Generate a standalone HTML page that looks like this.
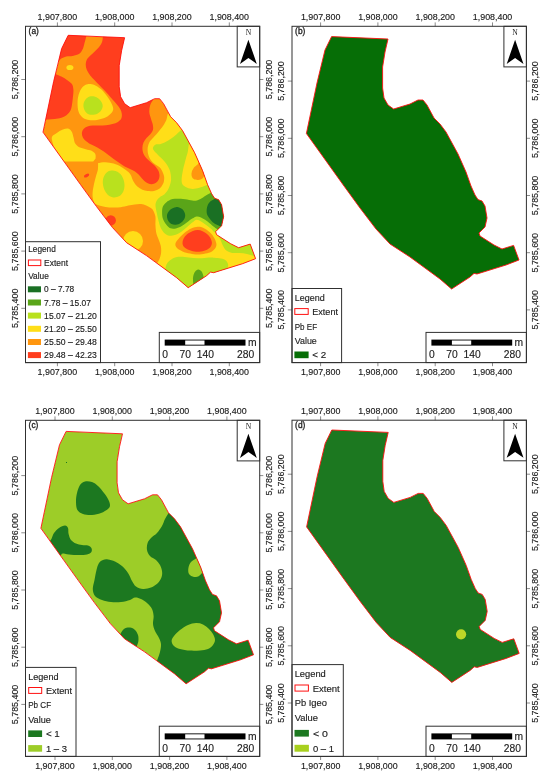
<!DOCTYPE html>
<html lang="en"><head><meta charset="utf-8"><title>Pb spatial distribution maps</title>
<style>html,body{margin:0;padding:0;background:#fff}svg{display:block}text{font-family:"Liberation Sans", sans-serif;fill:#202020;stroke:#202020;stroke-width:.14px}.s{font-family:"Liberation Serif", serif;stroke-width:0}.pl{stroke-width:.3px}</style></head><body>
<svg width="550" height="780" viewBox="0 0 550 780">
<rect width="550" height="780" fill="#fff"/>
<defs>
<clipPath id="cpa"><path d="M68.2 35.3L124.6 37.7L121.6 50.7L119.2 65.7L119.2 86.7L120.6 96.7L124.6 103.7L130.2 107.7L146.6 102.7L154.6 98.7L159.6 98.7L163.6 103.7L170.6 116.7L176.6 122.7L182.6 130.7L194.6 152.7L202.6 170.7L207.6 184.7L211.6 193.7L214.6 198.3L218.6 199.7L221.6 204.7L223.6 216.7L221.6 225.7L215.6 231.7L216.6 234.7L230.6 243.7L238.6 247.7L250.2 244.1L255.6 258.7L242.6 263.7L213.6 272.7L210.6 272.1L206.6 275.7L188.2 287.7L176.6 277.7L146.6 255.7L126.6 242.7L112.6 227.7L96.6 206.7L80.6 184.7L43 132.2L53.6 81.7L61.6 48.7Z"/></clipPath>
<clipPath id="cpb"><path d="M331.6 36.6L388 39L385 52L382.6 67L382.6 88L384 98L388 105L393.6 109L410 104L418 100L423 100L427 105L434 118L440 124L446 132L458 154L466 172L471 186L475 195L478 199.6L482 201L485 206L487 218L485 227L479 233L480 236L494 245L502 249L513.6 245.4L519 260L506 265L477 274L474 273.4L470 277L451.6 289L440 279L410 257L390 244L376 229L360 208L344 186L306.4 133.5L317 83L325 50Z"/></clipPath>
<clipPath id="cpc"><path d="M66.1 431.4L122.5 433.8L119.5 446.8L117.1 461.8L117.1 482.8L118.5 492.8L122.5 499.8L128.1 503.8L144.5 498.8L152.5 494.8L157.5 494.8L161.5 499.8L168.5 512.8L174.5 518.8L180.5 526.8L192.5 548.8L200.5 566.8L205.5 580.8L209.5 589.8L212.5 594.4L216.5 595.8L219.5 600.8L221.5 612.8L219.5 621.8L213.5 627.8L214.5 630.8L228.5 639.8L236.5 643.8L248.1 640.2L253.5 654.8L240.5 659.8L211.5 668.8L208.5 668.2L204.5 671.8L186.1 683.8L174.5 673.8L144.5 651.8L124.5 638.8L110.5 623.8L94.5 602.8L78.5 580.8L40.9 528.3L51.5 477.8L59.5 444.8Z"/></clipPath>
<clipPath id="cpd"><path d="M331.8 430L388.2 432.4L385.2 445.4L382.8 460.4L382.8 481.4L384.2 491.4L388.2 498.4L393.8 502.4L410.2 497.4L418.2 493.4L423.2 493.4L427.2 498.4L434.2 511.4L440.2 517.4L446.2 525.4L458.2 547.4L466.2 565.4L471.2 579.4L475.2 588.4L478.2 593L482.2 594.4L485.2 599.4L487.2 611.4L485.2 620.4L479.2 626.4L480.2 629.4L494.2 638.4L502.2 642.4L513.8 638.8L519.2 653.4L506.2 658.4L477.2 667.4L474.2 666.8L470.2 670.4L451.8 682.4L440.2 672.4L410.2 650.4L390.2 637.4L376.2 622.4L360.2 601.4L344.2 579.4L306.6 526.9L317.2 476.4L325.2 443.4Z"/></clipPath>
</defs>
<g id="panel-a">
<g clip-path="url(#cpa)">
<path d="M68.2 35.3L124.6 37.7L121.6 50.7L119.2 65.7L119.2 86.7L120.6 96.7L124.6 103.7L130.2 107.7L146.6 102.7L154.6 98.7L159.6 98.7L163.6 103.7L170.6 116.7L176.6 122.7L182.6 130.7L194.6 152.7L202.6 170.7L207.6 184.7L211.6 193.7L214.6 198.3L218.6 199.7L221.6 204.7L223.6 216.7L221.6 225.7L215.6 231.7L216.6 234.7L230.6 243.7L238.6 247.7L250.2 244.1L255.6 258.7L242.6 263.7L213.6 272.7L210.6 272.1L206.6 275.7L188.2 287.7L176.6 277.7L146.6 255.7L126.6 242.7L112.6 227.7L96.6 206.7L80.6 184.7L43 132.2L53.6 81.7L61.6 48.7Z" fill="#ff960f"/>
<path d="M86.6 34C86.5 34.7 86.1 36.7 85.8 38.2C85.5 39.7 85 41.3 84.5 43.1C84 44.9 83.8 47 82.9 48.8C82 50.6 81 52.5 79.3 53.7C77.6 54.9 74.9 55.4 72.7 55.9C70.5 56.4 68.1 56 66.2 56.5C64.3 57 62.6 57.7 61.3 58.6C60 59.5 59.3 60.7 58.3 61.9C57.2 63.1 55.5 65.3 55 66L40 66L40 25L87 25Z" fill="#ff3e1e"/>
<path d="M103 34C102.9 35.2 102.9 39.3 102.2 41.5C101.5 43.7 100.5 45.2 98.9 47.2C97.3 49.2 94.3 51.8 92.4 53.7C90.5 55.6 88.6 57 87.5 58.6C86.4 60.2 86 61.8 85.8 63.6C85.6 65.4 85.9 67.4 86.6 69.3C87.3 71.2 88.9 73.5 89.9 75C90.9 76.5 91.4 76.8 92.4 78C93.5 79.2 94.7 80.4 96.2 82C97.7 83.6 99.8 85.5 101.6 87.4C103.4 89.3 105.3 91.2 107.1 93.2C108.9 95.2 110.9 97.6 112.5 99.5C114.1 101.4 115.6 102.9 116.9 104.5C118.2 106.1 119.4 107.5 120.2 109C121 110.5 121.6 112.1 121.8 113.7C122 115.3 121.9 117.2 121.3 118.6C120.7 120 119.5 121 118 121.9C116.5 122.8 114.5 123.5 112.5 124.1C110.5 124.6 108.2 125 106 125.2C103.8 125.4 101.7 125.3 99.5 125.4C97.3 125.5 94.9 125.4 92.9 125.6C90.9 125.8 89 126 87.5 126.6C86 127.1 84.5 128 83.6 128.9C82.7 129.8 82.2 131 82 132.2C81.8 133.4 81.9 135 82.4 136.3C82.9 137.6 83.6 138.9 85 140.2C86.4 141.5 88.7 143.1 90.7 144.3C92.8 145.5 95.1 146.3 97.3 147.5C99.5 148.7 101.6 150.1 103.8 151.6C106 153.1 108.2 154.9 110.4 156.5C112.6 158.1 114.7 159.8 116.9 161.3C119.1 162.9 121.3 164.5 123.5 165.8C125.7 167.1 128.1 168 130 169C131.9 170 133.6 170.7 135 171.6C136.4 172.5 137.4 173.4 138.6 174.6C139.8 175.8 140.9 177.4 142 178.6C143.1 179.8 144.2 181 145.3 181.8C146.4 182.6 147.2 183.2 148.3 183.6C149.4 184 150.5 184.4 151.8 184.3C153.1 184.2 154.8 183.6 156 182.8C157.2 182 158.2 180.6 158.8 179.3C159.4 178 159.6 176.7 159.5 175.1C159.4 173.5 159 171.8 158 170C157 168.2 155.3 166.3 153.5 164.5C151.7 162.7 148.8 160.8 147.2 159C145.5 157.2 144.4 155.8 143.6 154C142.8 152.2 142.4 149.9 142.4 148C142.4 146.1 142.8 144.2 143.5 142.5C144.2 140.8 145.3 139.4 146.5 138C147.7 136.6 149.4 135.3 150.5 134C151.6 132.7 152.5 131.5 152.9 130C153.3 128.5 153.2 127.1 152.9 125.2C152.6 123.3 151.5 120.8 150.9 118.6C150.3 116.4 149.4 114.3 149.3 112.1C149.2 109.9 149.5 107.5 150.1 105.5C150.7 103.5 152.1 101.7 152.9 100.1C153.7 98.5 154.7 96.7 155 96L154 92L140 95L128 100L124 95L125 60L128 30L103 30Z" fill="#ff3e1e"/>
<path d="M53 72.5C53.5 72.8 54.6 73.5 56 74.2C57.4 74.9 59.5 75.6 61.3 76.6C63.1 77.5 65.2 78.7 67 79.9C68.8 81.1 70.8 82.4 71.9 84C73 85.6 73.2 87.5 73.4 89.7C73.6 91.9 73.2 94.5 72.9 97.1C72.7 99.7 72.3 103.1 71.9 105.3C71.5 107.5 71.3 108.9 70.5 110.5C69.7 112.1 68.5 113.6 67 114.8C65.5 116 63.3 117.1 61.3 117.8C59.2 118.5 56.9 118.6 54.7 118.9C52.5 119.2 50.3 119.2 48.2 119.4C46.1 119.6 43 119.7 42 119.8L35 120L35 95L50 70Z" fill="#ff3e1e"/>
<ellipse cx="86.6" cy="175.6" rx="2.9" ry="1.5" transform="rotate(-28 86.6 175.6)" fill="#ff3e1e"/>
<circle cx="110.7" cy="220.4" r="5.2" fill="#ff3e1e"/>
<ellipse cx="69.9" cy="67.5" rx="3.5" ry="2.6" fill="#ffde18"/>
<path d="M87.5 84.3C86 84.7 84.4 85.3 83.1 86.5C81.8 87.7 80.7 89.5 79.8 91.4C78.9 93.3 78.3 95.6 77.9 97.9C77.5 100.2 77.5 103.1 77.6 105.5C77.7 107.9 78 110.2 78.7 112.1C79.4 114 80.5 115.7 82 117C83.5 118.3 85.3 119.2 87.5 119.7C89.7 120.2 92.6 120.5 95.1 120.3C97.6 120.1 100.4 119.4 102.7 118.6C105 117.8 107.1 116.6 108.7 115.4C110.3 114.2 111.8 112.8 112.5 111.5C113.2 110.2 113.4 109.2 113.1 107.7C112.8 106.2 111.9 104.2 110.9 102.3C109.9 100.4 108.5 98.2 107.1 96.3C105.7 94.4 104.3 92.4 102.7 90.8C101.1 89.2 99.1 87.6 97.3 86.5C95.5 85.4 93.4 84.7 91.8 84.3C90.2 83.9 89 83.9 87.5 84.3Z" fill="#ffde18"/>
<path d="M53.9 146.7C53.5 145.1 51.4 139.7 51.8 137.4C52.2 135.2 54.5 134.5 56.4 133.2C58.2 131.9 60.9 130.2 62.9 129.5C64.9 128.8 67.1 128.3 68.6 128.7C70.1 129.1 71.1 130.5 71.9 132C72.7 133.5 73 135.8 73.6 137.7C74.1 139.6 74.2 141.9 75.2 143.5C76.2 145.1 77.5 146.2 79.3 147.2C81.1 148.1 83.8 148.6 85.8 149.2C87.8 149.8 90 150 91.6 150.8C93.2 151.6 94.6 152.8 95.3 154.1C96 155.4 95.5 157.8 95.6 158.6L93.2 161.5L62.7 161.5Z" fill="#ffde18"/>
<circle cx="133" cy="241" r="10" fill="#ffde18"/>
<path d="M98.1 163.1C99.3 163 102.9 162.2 105.5 162.3C108.1 162.4 110.9 162.8 113.6 163.6C116.3 164.4 119.3 165.8 121.8 167.2C124.3 168.6 126.9 170.7 128.4 172.1C129.9 173.5 130.2 173.9 131 175.5C131.8 177.1 132.4 179.7 133.5 181.5C134.6 183.3 135.8 185.1 137.3 186.5C138.8 187.9 140.7 188.9 142.4 189.7C144.1 190.4 145.6 190.8 147.5 191C149.4 191.2 151.9 191.3 153.9 190.9C155.9 190.5 158.1 189.7 159.6 188.5C161.1 187.3 162.4 185.2 163.2 183.5C164 181.8 164.2 179.7 164.2 178C164.2 176.3 163.8 175.1 163.2 173.5C162.6 171.9 161.8 170 160.7 168.6C159.6 167.2 158.1 166.5 156.6 165.3C155.1 164.1 153 162.8 151.7 161.2C150.3 159.6 149.2 157.6 148.5 155.5C147.8 153.4 147.5 151.1 147.6 148.9C147.7 146.7 148.3 144.3 149.3 142.4C150.3 140.5 151.8 139.4 153.4 137.5C155 135.6 157.3 133.1 159.1 130.9C160.9 128.7 162.8 126.3 164 124.4C165.2 122.5 165.9 121.2 166.5 119.5C167.1 117.8 167 115.9 167.6 114.5C168.2 113.1 169.6 111.6 170 111L270 110L270 300L150 300L156.5 264C157 263.2 158.7 260.9 159.5 259C160.3 257.1 160.9 254.7 161.1 252.5C161.3 250.3 161.2 248.1 160.8 245.9C160.4 243.7 159.4 241.6 158.6 239.4C157.8 237.2 156.7 235.3 156.2 232.8C155.7 230.3 155.5 227.3 155.4 224.6C155.3 221.9 155.8 218.9 155.4 216.5C155 214.1 153.8 211.4 152.9 209.9C152 208.4 151.1 208.2 150 207.5C148.9 206.8 147.7 206.2 146.2 205.6C144.7 205 143 204.3 141.1 204.1C139.2 203.9 136.8 204.2 134.7 204.4C132.6 204.7 130.7 205.1 128.4 205.6C126.1 206.1 123.2 206.9 120.7 207.2C118.2 207.5 115.6 207.6 113.1 207.5C110.6 207.4 107.8 207.2 105.5 206.9C103.2 206.6 100.9 206.2 99.1 205.6C97.3 204.9 95.7 204.4 94.6 203C93.5 201.6 93 199.3 92.7 197.4C92.4 195.5 92.5 193.8 92.7 191.6C92.9 189.4 93.5 186.5 94 184C94.5 181.5 95.3 178.7 95.9 176.4C96.5 174.1 97.4 172.2 97.8 170C98.2 167.8 98 164.2 98.1 163.1Z" fill="#ffde18"/>
<path d="M90.7 96.3C89.4 96.6 87.6 97.3 86.4 98.5C85.2 99.7 84 101.7 83.6 103.4C83.2 105.1 83.5 107.2 84 108.8C84.5 110.4 85.6 112.2 86.9 113.2C88.2 114.2 90.1 114.7 91.8 114.8C93.5 114.9 95.8 114.4 97.3 113.7C98.8 113 100.2 111.7 101.1 110.5C102 109.3 102.6 108 102.7 106.6C102.8 105.2 102.3 103.6 101.6 102.3C100.9 101 99.6 99.5 98.4 98.5C97.2 97.5 95.8 96.9 94.5 96.5C93.2 96.1 92 96 90.7 96.3Z" fill="#b9e11e"/>
<path d="M111.2 170.6C109.7 170.8 108 171.3 106.7 172.5C105.4 173.7 104.1 175.7 103.5 177.6C102.9 179.5 102.7 181.9 102.9 184C103.1 186.1 103.8 188.5 104.8 190.4C105.8 192.3 107.1 194.3 108.6 195.5C110.1 196.7 111.9 197.3 113.7 197.4C115.5 197.5 117.9 197.1 119.5 196.1C121.1 195.1 122.5 193.4 123.3 191.6C124.1 189.8 124.5 187.4 124.5 185.3C124.5 183.2 124 180.8 123.3 178.9C122.6 177 121.4 175.1 120.1 173.8C118.8 172.5 117.1 171.5 115.6 171C114.1 170.5 112.7 170.3 111.2 170.6Z" fill="#b9e11e"/>
<path d="M222 228C220.9 228.7 216.9 232.1 215.2 232.3C213.5 232.6 213.3 230.7 211.9 229.5C210.5 228.3 208.3 226.5 206.5 225.2C204.7 223.8 202.7 222.3 201 221.4C199.3 220.5 198 219.5 196.6 219.7C195.2 219.9 193.9 221.3 192.3 222.6C190.7 223.9 188.6 225.8 186.8 227.3C185 228.8 183.4 230.5 181.4 231.8C179.4 233.1 176.8 234.4 174.8 235.1C172.8 235.8 171.1 236 169.4 235.7C167.7 235.4 166.2 234.8 164.8 233.5C163.4 232.2 161.8 230.1 160.8 228C159.8 225.9 159.3 223.5 158.6 221C157.9 218.5 157.3 215.5 156.8 213C156.3 210.5 155.6 208 155.5 206C155.4 204 155.8 202.5 156.5 201C157.2 199.5 158.7 198.1 160 197C161.3 195.9 163.1 195.6 164.5 194.2C165.9 192.8 167.5 190.9 168.6 188.5C169.7 186.1 170.9 182.7 171.1 179.5C171.2 176.3 170.6 172.6 169.5 169.6C168.4 166.6 166.4 163.9 164.5 161.5C162.6 159.1 159.8 156.7 158 154.9C156.2 153.1 154.7 151.7 153.9 150.5C153.1 149.3 152.7 148.5 153 147.5C153.3 146.5 154.6 145.1 155.8 144.5C157 143.9 158.4 144.6 160 144.2C161.6 143.8 163.7 142.9 165.5 142C167.3 141.1 169.1 140 170.9 138.7C172.7 137.4 174.8 135.8 176.4 134.4C178 133 179.4 131.7 180.7 130.5C182 129.3 183.4 127.6 184 127L195 125L240 190L240 225Z" fill="#b9e11e"/>
<path d="M164.5 272C164.9 270.6 165.7 265.9 166.8 263.9C167.9 261.9 169.4 260.9 170.9 259.8C172.4 258.7 173.6 257.7 175.9 257.2C178.2 256.7 181.7 256.8 184.6 256.9C187.5 257 190.5 257.7 193.4 257.9C196.3 258.1 199.2 258.2 202.1 258.2C205 258.1 208.5 257.6 210.8 257.6C213.1 257.6 214.1 257.8 216 258C217.9 258.2 220.7 258.2 222.5 258.8C224.3 259.4 225.7 260.2 226.6 261.3C227.5 262.4 228.1 264.2 228.2 265.4C228.3 266.6 227.5 268 227.4 268.5L227 275L188 300L160 275Z" fill="#b9e11e"/>
<path d="M216.5 232.5C217.1 233.7 219.2 237.4 220.3 239.6C221.4 241.8 221.8 243.7 222.8 245.5C223.8 247.3 224.7 249.3 226.3 250.5C227.9 251.7 230.1 252.5 232.3 252.9C234.5 253.3 237.2 252.9 239.6 253.1C242 253.3 244.5 253.5 247 254C249.5 254.5 253.2 255.8 254.5 256.2L262 255L256 235L230 230Z" fill="#b9e11e"/>
<path d="M190.5 142C190.2 142.4 189.3 142.6 188.9 144.2C188.5 145.8 188.2 149.6 187.8 151.8C187.4 154 186.8 155.3 186.2 157.3C185.6 159.3 185.1 161.6 184.5 163.8C183.9 166 183.3 168.2 182.9 170.4C182.5 172.6 182 174.9 181.8 176.9C181.6 178.9 181.5 181 181.8 182.4C182.1 183.8 182.6 184.7 183.5 185.6C184.4 186.5 185.8 187.2 187.3 187.8C188.8 188.4 190.7 188.9 192.7 188.9C194.7 188.9 197.1 188.4 199.3 187.8C201.5 187.2 204 186.3 205.8 185.6C207.6 184.9 209.3 183.8 210 183.5L215 180L200 150Z" fill="#ffde18"/>
<path d="M199 162C198.8 162.4 198.4 163.6 197.6 164.4C196.8 165.2 195.3 165.9 194.4 167.1C193.5 168.3 192.4 170.1 191.9 171.5C191.4 172.9 191.3 174.5 191.6 175.8C191.9 177.1 192.7 178.4 193.8 179.1C194.9 179.8 196.8 180.1 198.2 180C199.6 179.9 201.5 179.2 202.5 178.5C203.5 177.8 203.6 176.6 204.2 175.8C204.8 175.1 205.7 174.3 206 174L212 172L205 160Z" fill="#ff960f"/>
<path d="M222 230C221.4 229.9 219.4 229.8 218.5 229.5C217.6 229.2 217.4 229.2 216.3 228.5C215.2 227.8 213.5 226.5 211.9 225.2C210.3 223.9 208.3 222.1 206.5 220.8C204.7 219.5 202.7 218.2 201 217.5C199.3 216.8 198 216.3 196.6 216.5C195.2 216.7 193.9 217.6 192.3 218.6C190.7 219.6 188.6 221.2 186.8 222.5C185 223.8 183.2 225.3 181.4 226.3C179.6 227.3 177.7 228.2 175.9 228.5C174.1 228.8 172.1 229 170.5 228.3C168.9 227.6 167.5 226.1 166.2 224.5C164.9 222.9 163.6 220.8 162.9 218.7C162.2 216.6 162.1 214.2 162.1 212.2C162.1 210.2 162.2 208.1 162.9 206.5C163.6 204.9 164.6 203.6 166.2 202.4C167.8 201.2 170.2 199.7 172.7 199.1C175.1 198.5 178.2 198.7 180.9 198.8C183.6 198.9 186.7 199.6 189.1 199.9C191.5 200.2 193.7 200.8 195.6 200.7C197.5 200.6 198.8 199.9 200.5 199.1C202.2 198.3 204 196.8 205.5 195.8C207 194.9 208.2 194 209.5 193.4C210.8 192.8 212.4 192.2 213 192L230 190L235 228Z" fill="#5aa519"/>
<path d="M193.5 286C193.4 284.7 192.8 280.2 193 278C193.2 275.8 193.7 273.9 194.5 272.5C195.3 271.1 196.8 269.8 197.9 269.5C199 269.2 200.3 270.1 201.2 271C202.1 271.9 202.7 273.7 203.2 275.2C203.7 276.7 203.9 279.2 204 280L200 292Z" fill="#5aa519"/>
<path d="M175.9 207.2C174.4 207.5 171.9 208.2 170.5 209.4C169.1 210.6 167.7 212.6 167.2 214.3C166.7 216 167 218.1 167.7 219.7C168.4 221.3 169.9 223.3 171.5 224.1C173.1 224.9 175.2 225 177 224.6C178.8 224.2 181.1 222.8 182.5 221.4C183.9 220 185 217.7 185.2 215.9C185.4 214.1 184.4 211.9 183.5 210.5C182.6 209.1 181 208.2 179.7 207.7C178.4 207.1 177.4 206.9 175.9 207.2Z" fill="#1a7024"/>
<path d="M217 197.5C216.6 197.8 215.6 198.3 214.3 199.1C213 199.9 210.6 201 209.4 202.4C208.2 203.8 207.4 205.6 207 207.5C206.6 209.4 206.5 211.9 206.9 213.7C207.3 215.5 208.3 216.7 209.2 218.1C210.1 219.5 211.3 220.8 212.5 221.9C213.7 223 215.1 223.9 216.3 224.6C217.5 225.3 218.6 225.6 219.5 225.9C220.4 226.2 221.6 226.4 222 226.5L230 226L230 198Z" fill="#1a7024"/>
<path d="M197.7 226.8C196.1 227 193.4 227.5 191.2 228.5C189 229.5 186.7 231.1 184.6 232.8C182.5 234.5 180.1 237 178.6 238.8C177.1 240.6 175.7 242.1 175.4 243.7C175.1 245.2 175.8 246.8 177 248.1C178.2 249.4 180.3 250.5 182.5 251.4C184.7 252.3 187.6 253 190.1 253.5C192.6 254 195.1 254.6 197.7 254.6C200.2 254.6 203 254 205.4 253.5C207.8 253 210.2 252.4 211.9 251.4C213.6 250.4 215 248.9 215.7 247.5C216.4 246.1 216.6 244.8 216.3 243.2C216 241.6 215.1 239.4 214.1 237.7C213.1 236 211.8 234.2 210.3 232.8C208.9 231.4 207 229.9 205.4 229C203.8 228.1 202.3 227.5 201 227.1C199.7 226.7 199.3 226.6 197.7 226.8Z" fill="#ff960f"/>
<path d="M197.7 230.1C196 230.1 194.1 230.5 192.3 231.2C190.5 231.9 188.3 233.2 186.8 234.5C185.3 235.8 184.2 237.4 183.5 238.8C182.8 240.2 182.4 241.8 182.5 243.2C182.6 244.6 183.1 245.9 184.1 247C185.1 248.1 186.8 249 188.5 249.7C190.2 250.4 192.4 251.1 194.5 251.4C196.6 251.7 198.9 251.7 201 251.4C203.1 251.1 205.4 250.5 207 249.7C208.6 248.9 210 247.7 210.8 246.5C211.6 245.3 212 244.1 211.9 242.6C211.8 241.1 211.1 239.1 210.3 237.7C209.5 236.2 208.3 235 207 233.9C205.7 232.8 204.2 231.8 202.6 231.2C201 230.6 199.4 230.1 197.7 230.1Z" fill="#ff3e1e"/>
</g>
<path d="M68.2 35.3L124.6 37.7L121.6 50.7L119.2 65.7L119.2 86.7L120.6 96.7L124.6 103.7L130.2 107.7L146.6 102.7L154.6 98.7L159.6 98.7L163.6 103.7L170.6 116.7L176.6 122.7L182.6 130.7L194.6 152.7L202.6 170.7L207.6 184.7L211.6 193.7L214.6 198.3L218.6 199.7L221.6 204.7L223.6 216.7L221.6 225.7L215.6 231.7L216.6 234.7L230.6 243.7L238.6 247.7L250.2 244.1L255.6 258.7L242.6 263.7L213.6 272.7L210.6 272.1L206.6 275.7L188.2 287.7L176.6 277.7L146.6 255.7L126.6 242.7L112.6 227.7L96.6 206.7L80.6 184.7L43 132.2L53.6 81.7L61.6 48.7Z" fill="none" stroke="#ff1010" stroke-width="0.9" stroke-linejoin="round"/>
<text x="37.6" y="20" font-size="9" text-anchor="start" textLength="39.5" lengthAdjust="spacingAndGlyphs">1,907,800</text>
<text x="37.6" y="375.1" font-size="9" text-anchor="start" textLength="39.5" lengthAdjust="spacingAndGlyphs">1,907,800</text>
<text x="94.9" y="20" font-size="9" text-anchor="start" textLength="39.5" lengthAdjust="spacingAndGlyphs">1,908,000</text>
<text x="94.9" y="375.1" font-size="9" text-anchor="start" textLength="39.5" lengthAdjust="spacingAndGlyphs">1,908,000</text>
<text x="152.2" y="20" font-size="9" text-anchor="start" textLength="39.5" lengthAdjust="spacingAndGlyphs">1,908,200</text>
<text x="152.2" y="375.1" font-size="9" text-anchor="start" textLength="39.5" lengthAdjust="spacingAndGlyphs">1,908,200</text>
<text x="209.5" y="20" font-size="9" text-anchor="start" textLength="39.5" lengthAdjust="spacingAndGlyphs">1,908,400</text>
<text x="209.5" y="375.1" font-size="9" text-anchor="start" textLength="39.5" lengthAdjust="spacingAndGlyphs">1,908,400</text>
<text transform="translate(17.7 99.2) rotate(-90)" font-size="9" textLength="39.5" lengthAdjust="spacingAndGlyphs">5,786,200</text>
<text transform="translate(272 99.2) rotate(-90)" font-size="9" textLength="39.5" lengthAdjust="spacingAndGlyphs">5,786,200</text>
<text transform="translate(17.7 156.4) rotate(-90)" font-size="9" textLength="39.5" lengthAdjust="spacingAndGlyphs">5,786,000</text>
<text transform="translate(272 156.4) rotate(-90)" font-size="9" textLength="39.5" lengthAdjust="spacingAndGlyphs">5,786,000</text>
<text transform="translate(17.7 213.7) rotate(-90)" font-size="9" textLength="39.5" lengthAdjust="spacingAndGlyphs">5,785,800</text>
<text transform="translate(272 213.7) rotate(-90)" font-size="9" textLength="39.5" lengthAdjust="spacingAndGlyphs">5,785,800</text>
<text transform="translate(17.7 270.9) rotate(-90)" font-size="9" textLength="39.5" lengthAdjust="spacingAndGlyphs">5,785,600</text>
<text transform="translate(272 270.9) rotate(-90)" font-size="9" textLength="39.5" lengthAdjust="spacingAndGlyphs">5,785,600</text>
<text transform="translate(17.7 328.1) rotate(-90)" font-size="9" textLength="39.5" lengthAdjust="spacingAndGlyphs">5,785,400</text>
<text transform="translate(272 328.1) rotate(-90)" font-size="9" textLength="39.5" lengthAdjust="spacingAndGlyphs">5,785,400</text>
<path d="M57.4 22.4V26.3M57.4 362.6V366.2M114.7 22.4V26.3M114.7 362.6V366.2M172 22.4V26.3M172 362.6V366.2M229.3 22.4V26.3M229.3 362.6V366.2M21.3 79.5H25.5M259.7 79.5H263.3M21.3 136.7H25.5M259.7 136.7H263.3M21.3 193.9H25.5M259.7 193.9H263.3M21.3 251.1H25.5M259.7 251.1H263.3M21.3 308.3H25.5M259.7 308.3H263.3" stroke="#8c8c8c" stroke-width="1" fill="none"/>
<rect x="25.5" y="241.7" width="75" height="120.9" fill="#fff" stroke="#303030" stroke-width="1"/>
<text x="28.2" y="252.4" font-size="8.7" text-anchor="start" textLength="27.6" lengthAdjust="spacingAndGlyphs">Legend</text>
<rect x="28.4" y="260" width="12.4" height="5.6" fill="#fff" stroke="#ff1010" stroke-width="1"/>
<text x="44.1" y="266" font-size="8.7" text-anchor="start" textLength="24" lengthAdjust="spacingAndGlyphs">Extent</text>
<text x="28.2" y="279.2" font-size="8.7" text-anchor="start" textLength="20.6" lengthAdjust="spacingAndGlyphs">Value</text>
<rect x="27.9" y="286.3" width="13.1" height="6" fill="#1a7024"/>
<text x="44.1" y="292.3" font-size="8.7" text-anchor="start" textLength="30.1" lengthAdjust="spacingAndGlyphs">0 – 7.78</text>
<rect x="27.9" y="299.5" width="13.1" height="6" fill="#5aa519"/>
<text x="44.1" y="305.5" font-size="8.7" text-anchor="start" textLength="46.8" lengthAdjust="spacingAndGlyphs">7.78 – 15.07</text>
<rect x="27.9" y="312.6" width="13.1" height="6" fill="#b9e11e"/>
<text x="44.1" y="318.6" font-size="8.7" text-anchor="start" textLength="52.7" lengthAdjust="spacingAndGlyphs">15.07 – 21.20</text>
<rect x="27.9" y="325.8" width="13.1" height="6" fill="#ffde18"/>
<text x="44.1" y="331.8" font-size="8.7" text-anchor="start" textLength="52.7" lengthAdjust="spacingAndGlyphs">21.20 – 25.50</text>
<rect x="27.9" y="339" width="13.1" height="6" fill="#ff960f"/>
<text x="44.1" y="345" font-size="8.7" text-anchor="start" textLength="52.7" lengthAdjust="spacingAndGlyphs">25.50 – 29.48</text>
<rect x="27.9" y="352.1" width="13.1" height="6" fill="#ff3e1e"/>
<text x="44.1" y="358.1" font-size="8.7" text-anchor="start" textLength="52.7" lengthAdjust="spacingAndGlyphs">29.48 – 42.23</text>
<rect x="237.2" y="26.3" width="22.5" height="40.6" fill="#fff" stroke="#303030" stroke-width="1"/>
<text class="s" x="248.4" y="34.7" font-size="7.6" text-anchor="middle">N</text>
<path d="M248.4 39.8L256.8 63.9L248.4 58.1L240 63.9Z" fill="#000"/>
<rect x="159.3" y="332.4" width="100.4" height="30.2" fill="#fff" stroke="#303030" stroke-width="1"/>
<rect x="164.7" y="339.6" width="80.8" height="6" fill="#000"/>
<rect x="185.2" y="340.5" width="19.3" height="4.2" fill="#fff"/>
<text x="165.2" y="357.9" font-size="10.3" text-anchor="middle">0</text>
<text x="185.3" y="357.9" font-size="10.3" text-anchor="middle">70</text>
<text x="205.4" y="357.9" font-size="10.3" text-anchor="middle">140</text>
<text x="245.7" y="357.9" font-size="10.3" text-anchor="middle">280</text>
<text x="247.9" y="345.8" font-size="10.3" text-anchor="start">m</text>
<rect x="25.5" y="26.3" width="234.2" height="336.3" fill="none" stroke="#303030" stroke-width="1"/>
<text x="28.6" y="34.4" font-size="8.4" text-anchor="start" class="pl">(a)</text>
</g>
<g id="panel-b">
<path d="M331.6 36.6L388 39L385 52L382.6 67L382.6 88L384 98L388 105L393.6 109L410 104L418 100L423 100L427 105L434 118L440 124L446 132L458 154L466 172L471 186L475 195L478 199.6L482 201L485 206L487 218L485 227L479 233L480 236L494 245L502 249L513.6 245.4L519 260L506 265L477 274L474 273.4L470 277L451.6 289L440 279L410 257L390 244L376 229L360 208L344 186L306.4 133.5L317 83L325 50Z" fill="#066e06" stroke="#ff1010" stroke-width="0.9" stroke-linejoin="round"/>
<text x="300.9" y="20" font-size="9" text-anchor="start" textLength="39.5" lengthAdjust="spacingAndGlyphs">1,907,800</text>
<text x="300.9" y="375.1" font-size="9" text-anchor="start" textLength="39.5" lengthAdjust="spacingAndGlyphs">1,907,800</text>
<text x="358.2" y="20" font-size="9" text-anchor="start" textLength="39.5" lengthAdjust="spacingAndGlyphs">1,908,000</text>
<text x="358.2" y="375.1" font-size="9" text-anchor="start" textLength="39.5" lengthAdjust="spacingAndGlyphs">1,908,000</text>
<text x="415.5" y="20" font-size="9" text-anchor="start" textLength="39.5" lengthAdjust="spacingAndGlyphs">1,908,200</text>
<text x="415.5" y="375.1" font-size="9" text-anchor="start" textLength="39.5" lengthAdjust="spacingAndGlyphs">1,908,200</text>
<text x="472.8" y="20" font-size="9" text-anchor="start" textLength="39.5" lengthAdjust="spacingAndGlyphs">1,908,400</text>
<text x="472.8" y="375.1" font-size="9" text-anchor="start" textLength="39.5" lengthAdjust="spacingAndGlyphs">1,908,400</text>
<text transform="translate(284.2 100.8) rotate(-90)" font-size="9" textLength="39.5" lengthAdjust="spacingAndGlyphs">5,786,200</text>
<text transform="translate(537.7 100.8) rotate(-90)" font-size="9" textLength="39.5" lengthAdjust="spacingAndGlyphs">5,786,200</text>
<text transform="translate(284.2 158.1) rotate(-90)" font-size="9" textLength="39.5" lengthAdjust="spacingAndGlyphs">5,786,000</text>
<text transform="translate(537.7 158.1) rotate(-90)" font-size="9" textLength="39.5" lengthAdjust="spacingAndGlyphs">5,786,000</text>
<text transform="translate(284.2 215.2) rotate(-90)" font-size="9" textLength="39.5" lengthAdjust="spacingAndGlyphs">5,785,800</text>
<text transform="translate(537.7 215.2) rotate(-90)" font-size="9" textLength="39.5" lengthAdjust="spacingAndGlyphs">5,785,800</text>
<text transform="translate(284.2 272.5) rotate(-90)" font-size="9" textLength="39.5" lengthAdjust="spacingAndGlyphs">5,785,600</text>
<text transform="translate(537.7 272.5) rotate(-90)" font-size="9" textLength="39.5" lengthAdjust="spacingAndGlyphs">5,785,600</text>
<text transform="translate(284.2 329.6) rotate(-90)" font-size="9" textLength="39.5" lengthAdjust="spacingAndGlyphs">5,785,400</text>
<text transform="translate(537.7 329.6) rotate(-90)" font-size="9" textLength="39.5" lengthAdjust="spacingAndGlyphs">5,785,400</text>
<path d="M320.6 22.4V26.3M320.6 362.6V366.2M377.9 22.4V26.3M377.9 362.6V366.2M435.2 22.4V26.3M435.2 362.6V366.2M492.5 22.4V26.3M492.5 362.6V366.2M287.8 81.1H292M526.4 81.1H530M287.8 138.3H292M526.4 138.3H530M287.8 195.5H292M526.4 195.5H530M287.8 252.7H292M526.4 252.7H530M287.8 309.9H292M526.4 309.9H530" stroke="#8c8c8c" stroke-width="1" fill="none"/>
<rect x="292" y="288.5" width="49.6" height="74.1" fill="#fff" stroke="#303030" stroke-width="1"/>
<text x="294.7" y="300.8" font-size="9.3" text-anchor="start" textLength="30" lengthAdjust="spacingAndGlyphs">Legend</text>
<rect x="294.8" y="308.6" width="13.4" height="5.8" fill="#fff" stroke="#ff1010" stroke-width="1"/>
<text x="312.2" y="315.2" font-size="9.3" text-anchor="start" textLength="25.8" lengthAdjust="spacingAndGlyphs">Extent</text>
<text x="294.7" y="329.6" font-size="9.3" text-anchor="start" textLength="22.4" lengthAdjust="spacingAndGlyphs">Pb EF</text>
<text x="294.7" y="343.8" font-size="9.3" text-anchor="start" textLength="22.1" lengthAdjust="spacingAndGlyphs">Value</text>
<rect x="294.4" y="351.5" width="14.2" height="6.7" fill="#066e06"/>
<text x="312.2" y="358.2" font-size="9.3" text-anchor="start" textLength="13.9" lengthAdjust="spacingAndGlyphs">&lt; 2</text>
<rect x="503.9" y="26.3" width="22.5" height="40.6" fill="#fff" stroke="#303030" stroke-width="1"/>
<text class="s" x="515.1" y="34.7" font-size="7.6" text-anchor="middle">N</text>
<path d="M515.1 39.8L523.5 63.9L515.1 58.1L506.7 63.9Z" fill="#000"/>
<rect x="426" y="332.4" width="100.4" height="30.2" fill="#fff" stroke="#303030" stroke-width="1"/>
<rect x="431.4" y="339.6" width="80.8" height="6" fill="#000"/>
<rect x="451.9" y="340.5" width="19.3" height="4.2" fill="#fff"/>
<text x="431.9" y="357.9" font-size="10.3" text-anchor="middle">0</text>
<text x="452" y="357.9" font-size="10.3" text-anchor="middle">70</text>
<text x="472.1" y="357.9" font-size="10.3" text-anchor="middle">140</text>
<text x="512.4" y="357.9" font-size="10.3" text-anchor="middle">280</text>
<text x="514.6" y="345.8" font-size="10.3" text-anchor="start">m</text>
<rect x="292" y="26.3" width="234.4" height="336.3" fill="none" stroke="#303030" stroke-width="1"/>
<text x="295.1" y="34.4" font-size="8.4" text-anchor="start" class="pl">(b)</text>
</g>
<g id="panel-c">
<g clip-path="url(#cpc)">
<path d="M66.1 431.4L122.5 433.8L119.5 446.8L117.1 461.8L117.1 482.8L118.5 492.8L122.5 499.8L128.1 503.8L144.5 498.8L152.5 494.8L157.5 494.8L161.5 499.8L168.5 512.8L174.5 518.8L180.5 526.8L192.5 548.8L200.5 566.8L205.5 580.8L209.5 589.8L212.5 594.4L216.5 595.8L219.5 600.8L221.5 612.8L219.5 621.8L213.5 627.8L214.5 630.8L228.5 639.8L236.5 643.8L248.1 640.2L253.5 654.8L240.5 659.8L211.5 668.8L208.5 668.2L204.5 671.8L186.1 683.8L174.5 673.8L144.5 651.8L124.5 638.8L110.5 623.8L94.5 602.8L78.5 580.8L40.9 528.3L51.5 477.8L59.5 444.8Z" fill="#9dcd28"/>
<path d="M85 481.4C83 481.9 81.3 483.1 80 485C78.7 486.9 77.7 490.2 77 493C76.3 495.8 75.9 499.2 76 502C76.1 504.8 76.2 508 77.4 510C78.6 512 80.6 513.2 83 514C85.4 514.8 89 515.2 92 515C95 514.8 98.3 514 101 513C103.7 512 106.5 510.3 108 509C109.5 507.7 110 506.7 110 505C110 503.3 109 501 108 499C107 497 105.7 495.2 104 493C102.3 490.8 100 487.8 98 486C96 484.2 94.2 482.8 92 482C89.8 481.2 87 480.9 85 481.4Z" fill="#1c7820"/>
<path d="M50 541C50.2 540.7 50.7 540.3 51.4 539C52.1 537.7 52.7 534.8 54 533C55.3 531.2 57.2 529.2 59 528C60.8 526.8 63.5 525.6 65 525.6C66.5 525.6 67.4 526.6 68 528C68.6 529.4 68.1 532 68.6 534C69.1 536 69.8 538.4 71 540C72.2 541.6 74.2 542.8 76 543.6C77.8 544.4 80 544.7 82 545C84 545.3 86.4 545.1 88 545.6C89.6 546.1 90.8 546.9 91.4 548C92 549.1 92.1 550.9 91.4 552C90.7 553.1 89.1 553.9 87 554.4C84.9 554.9 82 555 79 555C76 555 71.8 554.6 69 554.4C66.2 554.1 63.2 553.6 62 553.5L58 560L45 545Z" fill="#1c7820"/>
<path d="M119 637C119.2 636.5 119.6 635.3 120.4 634C121.2 632.7 122.4 630.1 124 629C125.6 627.9 128.2 627.4 130 627.6C131.8 627.8 133.7 628.8 135 630C136.3 631.2 137.4 633.2 138 635C138.6 636.8 138.6 639.2 138.4 641C138.2 642.8 137.4 644.4 137 645.6C136.6 646.8 136.2 647.6 136 648L125 652L112 640Z" fill="#1c7820"/>
<path d="M170 511C169.7 511.5 168.8 512.7 168 514C167.2 515.3 166 517 165 519C164 521 163.3 523.7 162 526C160.7 528.3 158.8 531 157 533C155.2 535 152.6 536.3 151 538C149.4 539.7 148.3 541 147.6 543C146.9 545 146.6 547.8 147 550C147.4 552.2 148.5 554.3 150 556C151.5 557.7 154.3 558.5 156 560C157.7 561.5 159 563.2 160 565C161 566.8 161.7 569 162 571C162.3 573 162.3 575 161.6 577C160.9 579 159.8 581.2 158 583C156.2 584.8 153.5 586.6 151 587.6C148.5 588.6 145.5 589.2 143 589C140.5 588.8 137.8 587.8 136 586.5C134.2 585.2 133.3 583.2 132 581C130.7 578.8 129.7 575.5 128 573C126.3 570.5 124.2 567.9 122 566C119.8 564.1 117.3 562.6 115 561.5C112.7 560.4 110 559.8 108 559.5C106 559.2 104.5 559.4 103 560C101.5 560.6 100.1 561.3 99 563C97.9 564.7 97.2 567.2 96.5 570C95.8 572.8 95.1 576.8 94.5 580C93.9 583.2 92.7 586.3 92.8 589C92.9 591.7 93.5 594.2 95 596C96.5 597.8 99.3 599 102 600C104.7 601 107.8 601.7 111 602C114.2 602.3 117.8 602.3 121 602C124.2 601.7 127.7 600.7 130 600C132.3 599.3 133.2 597.8 135 597.6C136.8 597.4 139 598.1 141 599C143 599.9 145.2 601.3 147 603C148.8 604.7 150.9 606.8 152 609C153.1 611.2 153.4 613.5 153.6 616C153.8 618.5 152.8 621.5 153 624C153.2 626.5 154 628.7 155 631C156 633.3 158 635.8 159 638C160 640.2 160.8 641.7 161 644C161.2 646.3 160.6 649.5 160 652C159.4 654.5 158.3 657 157.6 659C156.9 661 156.3 663.2 156 664L150 672L186 700L270 665L235 600L178 508Z" fill="#1c7820"/>
<path d="M198 556C197.7 556.4 197.2 557.4 196 558.4C194.8 559.4 192.3 560.4 191 562C189.7 563.6 188.7 566 188.4 568C188.1 570 188.1 572.5 189 574C189.9 575.5 192.3 576.7 194 577C195.7 577.3 197.7 576.7 199 576C200.3 575.3 201.2 573.8 202 573C202.8 572.2 203.7 571.3 204 571L212 575L204 552Z" fill="#9dcd28"/>
<path d="M196 623C193.5 623.1 190.7 623.8 188 625C185.3 626.2 182.3 628.2 180 630C177.7 631.8 175.4 634.2 174 636C172.6 637.8 171.6 639.3 171.6 641C171.6 642.7 172.6 644.7 174 646C175.4 647.3 177.3 648.2 180 649C182.7 649.8 186.7 650.4 190 650.6C193.3 650.8 197 650.7 200 650.4C203 650.1 205.8 649.9 208 649C210.2 648.1 211.8 646.5 213 645C214.2 643.5 215 641.8 215 640C215 638.2 214 635.8 213 634C212 632.2 210.7 630.6 209 629C207.3 627.4 205.2 625.4 203 624.4C200.8 623.4 198.5 622.9 196 623Z" fill="#9dcd28"/>
<rect x="66" y="462" width="1" height="1" fill="#1c7820"/>
</g>
<path d="M66.1 431.4L122.5 433.8L119.5 446.8L117.1 461.8L117.1 482.8L118.5 492.8L122.5 499.8L128.1 503.8L144.5 498.8L152.5 494.8L157.5 494.8L161.5 499.8L168.5 512.8L174.5 518.8L180.5 526.8L192.5 548.8L200.5 566.8L205.5 580.8L209.5 589.8L212.5 594.4L216.5 595.8L219.5 600.8L221.5 612.8L219.5 621.8L213.5 627.8L214.5 630.8L228.5 639.8L236.5 643.8L248.1 640.2L253.5 654.8L240.5 659.8L211.5 668.8L208.5 668.2L204.5 671.8L186.1 683.8L174.5 673.8L144.5 651.8L124.5 638.8L110.5 623.8L94.5 602.8L78.5 580.8L40.9 528.3L51.5 477.8L59.5 444.8Z" fill="none" stroke="#ff1010" stroke-width="0.9" stroke-linejoin="round"/>
<text x="35.2" y="414" font-size="9" text-anchor="start" textLength="39.5" lengthAdjust="spacingAndGlyphs">1,907,800</text>
<text x="35.2" y="768.9" font-size="9" text-anchor="start" textLength="39.5" lengthAdjust="spacingAndGlyphs">1,907,800</text>
<text x="92.5" y="414" font-size="9" text-anchor="start" textLength="39.5" lengthAdjust="spacingAndGlyphs">1,908,000</text>
<text x="92.5" y="768.9" font-size="9" text-anchor="start" textLength="39.5" lengthAdjust="spacingAndGlyphs">1,908,000</text>
<text x="149.8" y="414" font-size="9" text-anchor="start" textLength="39.5" lengthAdjust="spacingAndGlyphs">1,908,200</text>
<text x="149.8" y="768.9" font-size="9" text-anchor="start" textLength="39.5" lengthAdjust="spacingAndGlyphs">1,908,200</text>
<text x="207.1" y="414" font-size="9" text-anchor="start" textLength="39.5" lengthAdjust="spacingAndGlyphs">1,908,400</text>
<text x="207.1" y="768.9" font-size="9" text-anchor="start" textLength="39.5" lengthAdjust="spacingAndGlyphs">1,908,400</text>
<text transform="translate(17.7 495.4) rotate(-90)" font-size="9" textLength="39.5" lengthAdjust="spacingAndGlyphs">5,786,200</text>
<text transform="translate(272 495.4) rotate(-90)" font-size="9" textLength="39.5" lengthAdjust="spacingAndGlyphs">5,786,200</text>
<text transform="translate(17.7 552.6) rotate(-90)" font-size="9" textLength="39.5" lengthAdjust="spacingAndGlyphs">5,786,000</text>
<text transform="translate(272 552.6) rotate(-90)" font-size="9" textLength="39.5" lengthAdjust="spacingAndGlyphs">5,786,000</text>
<text transform="translate(17.7 609.8) rotate(-90)" font-size="9" textLength="39.5" lengthAdjust="spacingAndGlyphs">5,785,800</text>
<text transform="translate(272 609.8) rotate(-90)" font-size="9" textLength="39.5" lengthAdjust="spacingAndGlyphs">5,785,800</text>
<text transform="translate(17.7 667) rotate(-90)" font-size="9" textLength="39.5" lengthAdjust="spacingAndGlyphs">5,785,600</text>
<text transform="translate(272 667) rotate(-90)" font-size="9" textLength="39.5" lengthAdjust="spacingAndGlyphs">5,785,600</text>
<text transform="translate(17.7 724.2) rotate(-90)" font-size="9" textLength="39.5" lengthAdjust="spacingAndGlyphs">5,785,400</text>
<text transform="translate(272 724.2) rotate(-90)" font-size="9" textLength="39.5" lengthAdjust="spacingAndGlyphs">5,785,400</text>
<path d="M55 416.4V420.3M55 756.4V760M112.3 416.4V420.3M112.3 756.4V760M169.6 416.4V420.3M169.6 756.4V760M226.9 416.4V420.3M226.9 756.4V760M21.3 475.6H25.5M259.7 475.6H263.3M21.3 532.8H25.5M259.7 532.8H263.3M21.3 590H25.5M259.7 590H263.3M21.3 647.2H25.5M259.7 647.2H263.3M21.3 704.4H25.5M259.7 704.4H263.3" stroke="#8c8c8c" stroke-width="1" fill="none"/>
<rect x="25.5" y="667.4" width="50.5" height="89" fill="#fff" stroke="#303030" stroke-width="1"/>
<text x="28.2" y="679.6" font-size="9.3" text-anchor="start" textLength="30.3" lengthAdjust="spacingAndGlyphs">Legend</text>
<rect x="28.7" y="687.5" width="13" height="5.9" fill="#fff" stroke="#ff1010" stroke-width="1"/>
<text x="45.9" y="693.9" font-size="9.3" text-anchor="start" textLength="26.1" lengthAdjust="spacingAndGlyphs">Extent</text>
<text x="28.2" y="708.3" font-size="9.3" text-anchor="start" textLength="22.9" lengthAdjust="spacingAndGlyphs">Pb CF</text>
<text x="28.2" y="723" font-size="9.3" text-anchor="start" textLength="22.6" lengthAdjust="spacingAndGlyphs">Value</text>
<rect x="28.2" y="730.4" width="13.9" height="6.6" fill="#1c7820"/>
<text x="45.9" y="737.3" font-size="9.3" text-anchor="start" textLength="13.9" lengthAdjust="spacingAndGlyphs">&lt; 1</text>
<rect x="28.2" y="745.1" width="13.9" height="6.6" fill="#9dcd28"/>
<text x="45.9" y="751.7" font-size="9.3" text-anchor="start" textLength="21.1" lengthAdjust="spacingAndGlyphs">1 – 3</text>
<rect x="237.2" y="420.3" width="22.5" height="40.6" fill="#fff" stroke="#303030" stroke-width="1"/>
<text class="s" x="248.4" y="428.7" font-size="7.6" text-anchor="middle">N</text>
<path d="M248.4 433.8L256.8 457.9L248.4 452.1L240 457.9Z" fill="#000"/>
<rect x="159.3" y="726.2" width="100.4" height="30.2" fill="#fff" stroke="#303030" stroke-width="1"/>
<rect x="164.7" y="733.4" width="80.8" height="6" fill="#000"/>
<rect x="185.2" y="734.3" width="19.3" height="4.2" fill="#fff"/>
<text x="165.2" y="751.7" font-size="10.3" text-anchor="middle">0</text>
<text x="185.3" y="751.7" font-size="10.3" text-anchor="middle">70</text>
<text x="205.4" y="751.7" font-size="10.3" text-anchor="middle">140</text>
<text x="245.7" y="751.7" font-size="10.3" text-anchor="middle">280</text>
<text x="247.9" y="739.6" font-size="10.3" text-anchor="start">m</text>
<rect x="25.5" y="420.3" width="234.2" height="336.1" fill="none" stroke="#303030" stroke-width="1"/>
<text x="28.6" y="428.4" font-size="8.4" text-anchor="start" class="pl">(c)</text>
</g>
<g id="panel-d">
<path d="M331.8 430L388.2 432.4L385.2 445.4L382.8 460.4L382.8 481.4L384.2 491.4L388.2 498.4L393.8 502.4L410.2 497.4L418.2 493.4L423.2 493.4L427.2 498.4L434.2 511.4L440.2 517.4L446.2 525.4L458.2 547.4L466.2 565.4L471.2 579.4L475.2 588.4L478.2 593L482.2 594.4L485.2 599.4L487.2 611.4L485.2 620.4L479.2 626.4L480.2 629.4L494.2 638.4L502.2 642.4L513.8 638.8L519.2 653.4L506.2 658.4L477.2 667.4L474.2 666.8L470.2 670.4L451.8 682.4L440.2 672.4L410.2 650.4L390.2 637.4L376.2 622.4L360.2 601.4L344.2 579.4L306.6 526.9L317.2 476.4L325.2 443.4Z" fill="#1c7820" stroke="#ff1010" stroke-width="0.9" stroke-linejoin="round"/><circle cx="461.1" cy="634.3" r="5.1" fill="#bed728"/>
<text x="300.9" y="413.9" font-size="9" text-anchor="start" textLength="39.5" lengthAdjust="spacingAndGlyphs">1,907,800</text>
<text x="300.9" y="768.9" font-size="9" text-anchor="start" textLength="39.5" lengthAdjust="spacingAndGlyphs">1,907,800</text>
<text x="358.2" y="413.9" font-size="9" text-anchor="start" textLength="39.5" lengthAdjust="spacingAndGlyphs">1,908,000</text>
<text x="358.2" y="768.9" font-size="9" text-anchor="start" textLength="39.5" lengthAdjust="spacingAndGlyphs">1,908,000</text>
<text x="415.5" y="413.9" font-size="9" text-anchor="start" textLength="39.5" lengthAdjust="spacingAndGlyphs">1,908,200</text>
<text x="415.5" y="768.9" font-size="9" text-anchor="start" textLength="39.5" lengthAdjust="spacingAndGlyphs">1,908,200</text>
<text x="472.8" y="413.9" font-size="9" text-anchor="start" textLength="39.5" lengthAdjust="spacingAndGlyphs">1,908,400</text>
<text x="472.8" y="768.9" font-size="9" text-anchor="start" textLength="39.5" lengthAdjust="spacingAndGlyphs">1,908,400</text>
<text transform="translate(284.2 493.9) rotate(-90)" font-size="9" textLength="39.5" lengthAdjust="spacingAndGlyphs">5,786,200</text>
<text transform="translate(537.7 493.9) rotate(-90)" font-size="9" textLength="39.5" lengthAdjust="spacingAndGlyphs">5,786,200</text>
<text transform="translate(284.2 551.1) rotate(-90)" font-size="9" textLength="39.5" lengthAdjust="spacingAndGlyphs">5,786,000</text>
<text transform="translate(537.7 551.1) rotate(-90)" font-size="9" textLength="39.5" lengthAdjust="spacingAndGlyphs">5,786,000</text>
<text transform="translate(284.2 608.4) rotate(-90)" font-size="9" textLength="39.5" lengthAdjust="spacingAndGlyphs">5,785,800</text>
<text transform="translate(537.7 608.4) rotate(-90)" font-size="9" textLength="39.5" lengthAdjust="spacingAndGlyphs">5,785,800</text>
<text transform="translate(284.2 665.5) rotate(-90)" font-size="9" textLength="39.5" lengthAdjust="spacingAndGlyphs">5,785,600</text>
<text transform="translate(537.7 665.5) rotate(-90)" font-size="9" textLength="39.5" lengthAdjust="spacingAndGlyphs">5,785,600</text>
<text transform="translate(284.2 722.8) rotate(-90)" font-size="9" textLength="39.5" lengthAdjust="spacingAndGlyphs">5,785,400</text>
<text transform="translate(537.7 722.8) rotate(-90)" font-size="9" textLength="39.5" lengthAdjust="spacingAndGlyphs">5,785,400</text>
<path d="M320.6 416.3V420.2M320.6 756.4V760M377.9 416.3V420.2M377.9 756.4V760M435.2 416.3V420.2M435.2 756.4V760M492.5 416.3V420.2M492.5 756.4V760M287.8 474.2H292M526.4 474.2H530M287.8 531.4H292M526.4 531.4H530M287.8 588.6H292M526.4 588.6H530M287.8 645.8H292M526.4 645.8H530M287.8 703H292M526.4 703H530" stroke="#8c8c8c" stroke-width="1" fill="none"/>
<rect x="292" y="664.6" width="51.3" height="91.8" fill="#fff" stroke="#303030" stroke-width="1"/>
<text x="294.7" y="677.2" font-size="9.6" text-anchor="start" textLength="31.1" lengthAdjust="spacingAndGlyphs">Legend</text>
<rect x="295" y="685" width="13.4" height="6.1" fill="#fff" stroke="#ff1010" stroke-width="1"/>
<text x="312.7" y="691.6" font-size="9.6" text-anchor="start" textLength="27" lengthAdjust="spacingAndGlyphs">Extent</text>
<text x="294.7" y="706.3" font-size="9.6" text-anchor="start" textLength="32.2" lengthAdjust="spacingAndGlyphs">Pb Igeo</text>
<text x="294.7" y="721.4" font-size="9.6" text-anchor="start" textLength="23.2" lengthAdjust="spacingAndGlyphs">Value</text>
<rect x="294.5" y="729.9" width="14.4" height="6.7" fill="#1c7820"/>
<text x="313" y="736.6" font-size="9.6" text-anchor="start" textLength="15" lengthAdjust="spacingAndGlyphs">&lt; 0</text>
<rect x="294.5" y="744.8" width="14.4" height="6.9" fill="#a8d01e"/>
<text x="313" y="751.7" font-size="9.6" text-anchor="start" textLength="21" lengthAdjust="spacingAndGlyphs">0 – 1</text>
<rect x="503.9" y="420.2" width="22.5" height="40.6" fill="#fff" stroke="#303030" stroke-width="1"/>
<text class="s" x="515.1" y="428.6" font-size="7.6" text-anchor="middle">N</text>
<path d="M515.1 433.7L523.5 457.8L515.1 452L506.7 457.8Z" fill="#000"/>
<rect x="426" y="726.2" width="100.4" height="30.2" fill="#fff" stroke="#303030" stroke-width="1"/>
<rect x="431.4" y="733.4" width="80.8" height="6" fill="#000"/>
<rect x="451.9" y="734.3" width="19.3" height="4.2" fill="#fff"/>
<text x="431.9" y="751.7" font-size="10.3" text-anchor="middle">0</text>
<text x="452" y="751.7" font-size="10.3" text-anchor="middle">70</text>
<text x="472.1" y="751.7" font-size="10.3" text-anchor="middle">140</text>
<text x="512.4" y="751.7" font-size="10.3" text-anchor="middle">280</text>
<text x="514.6" y="739.6" font-size="10.3" text-anchor="start">m</text>
<rect x="292" y="420.2" width="234.4" height="336.2" fill="none" stroke="#303030" stroke-width="1"/>
<text x="295.1" y="428.3" font-size="8.4" text-anchor="start" class="pl">(d)</text>
</g>
</svg></body></html>
